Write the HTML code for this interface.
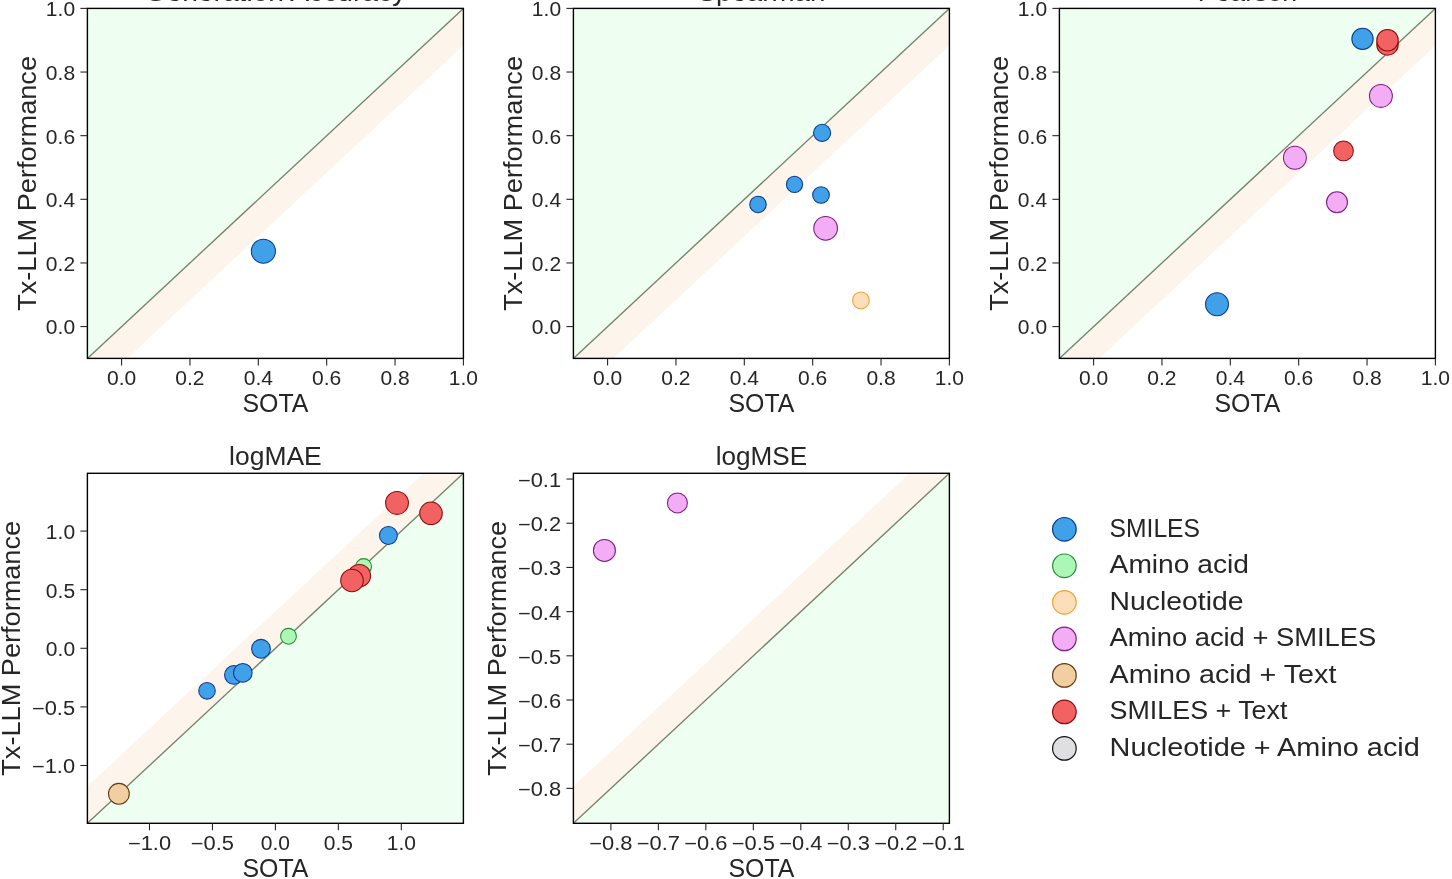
<!DOCTYPE html>
<html><head><meta charset="utf-8"><style>
html,body{margin:0;padding:0;background:#fff;}
svg{display:block;will-change:transform;font-family:"Liberation Sans", sans-serif;}
</style></head><body>
<svg width="1452" height="879" viewBox="0 0 1452 879">
<rect width="1452" height="879" fill="#fff"/>
<polygon points="87.4,358.4 87.4,8.4 463.4,8.4" fill="#eefef0"/>
<polygon points="87.4,358.4 463.4,8.4 463.4,45.4 127.14857142857144,358.4" fill="#fdf4ec"/>
<line x1="87.4" y1="358.4" x2="463.4" y2="8.4" stroke="#74836d" stroke-width="1.35"/>
<circle cx="263.4" cy="251.2" r="12.05" fill="#40a1e8" stroke="#0b3a8e" stroke-width="1.05"/>
<rect x="87.4" y="8.4" width="376.0" height="350.0" fill="none" stroke="#000" stroke-width="1.4"/>
<line x1="121.58" y1="358.4" x2="121.58" y2="365.4" stroke="#262626" stroke-width="1.1"/>
<text x="121.58" y="384.70" font-size="19.3" text-anchor="middle" textLength="29.23" lengthAdjust="spacingAndGlyphs" fill="#262626">0.0</text>
<line x1="189.95" y1="358.4" x2="189.95" y2="365.4" stroke="#262626" stroke-width="1.1"/>
<text x="189.95" y="384.70" font-size="19.3" text-anchor="middle" textLength="29.23" lengthAdjust="spacingAndGlyphs" fill="#262626">0.2</text>
<line x1="258.31" y1="358.4" x2="258.31" y2="365.4" stroke="#262626" stroke-width="1.1"/>
<text x="258.31" y="384.70" font-size="19.3" text-anchor="middle" textLength="29.23" lengthAdjust="spacingAndGlyphs" fill="#262626">0.4</text>
<line x1="326.67" y1="358.4" x2="326.67" y2="365.4" stroke="#262626" stroke-width="1.1"/>
<text x="326.67" y="384.70" font-size="19.3" text-anchor="middle" textLength="29.23" lengthAdjust="spacingAndGlyphs" fill="#262626">0.6</text>
<line x1="395.04" y1="358.4" x2="395.04" y2="365.4" stroke="#262626" stroke-width="1.1"/>
<text x="395.04" y="384.70" font-size="19.3" text-anchor="middle" textLength="29.23" lengthAdjust="spacingAndGlyphs" fill="#262626">0.8</text>
<line x1="463.40" y1="358.4" x2="463.40" y2="365.4" stroke="#262626" stroke-width="1.1"/>
<text x="463.40" y="384.70" font-size="19.3" text-anchor="middle" textLength="29.23" lengthAdjust="spacingAndGlyphs" fill="#262626">1.0</text>
<line x1="80.4" y1="326.58" x2="87.4" y2="326.58" stroke="#262626" stroke-width="1.1"/>
<text x="75.10" y="334.48" font-size="19.3" text-anchor="end" textLength="29.23" lengthAdjust="spacingAndGlyphs" fill="#262626">0.0</text>
<line x1="80.4" y1="262.95" x2="87.4" y2="262.95" stroke="#262626" stroke-width="1.1"/>
<text x="75.10" y="270.85" font-size="19.3" text-anchor="end" textLength="29.23" lengthAdjust="spacingAndGlyphs" fill="#262626">0.2</text>
<line x1="80.4" y1="199.31" x2="87.4" y2="199.31" stroke="#262626" stroke-width="1.1"/>
<text x="75.10" y="207.21" font-size="19.3" text-anchor="end" textLength="29.23" lengthAdjust="spacingAndGlyphs" fill="#262626">0.4</text>
<line x1="80.4" y1="135.67" x2="87.4" y2="135.67" stroke="#262626" stroke-width="1.1"/>
<text x="75.10" y="143.57" font-size="19.3" text-anchor="end" textLength="29.23" lengthAdjust="spacingAndGlyphs" fill="#262626">0.6</text>
<line x1="80.4" y1="72.04" x2="87.4" y2="72.04" stroke="#262626" stroke-width="1.1"/>
<text x="75.10" y="79.94" font-size="19.3" text-anchor="end" textLength="29.23" lengthAdjust="spacingAndGlyphs" fill="#262626">0.8</text>
<line x1="80.4" y1="8.40" x2="87.4" y2="8.40" stroke="#262626" stroke-width="1.1"/>
<text x="75.10" y="16.30" font-size="19.3" text-anchor="end" textLength="29.23" lengthAdjust="spacingAndGlyphs" fill="#262626">1.0</text>
<text x="275.40" y="412.20" font-size="25.5" text-anchor="middle" textLength="65.98" lengthAdjust="spacingAndGlyphs" fill="#262626">SOTA</text>
<text x="35.60" y="183.40" font-size="25.5" text-anchor="middle" textLength="254.86" lengthAdjust="spacingAndGlyphs" fill="#262626" transform="rotate(-90 35.6 183.39999999999998)">Tx-LLM Performance</text>
<text x="275.40" y="1.30" font-size="25.5" text-anchor="middle" textLength="261.56" lengthAdjust="spacingAndGlyphs" fill="#262626">Generation Accuracy</text>
<polygon points="573.4,358.4 573.4,8.4 949.4,8.4" fill="#eefef0"/>
<polygon points="573.4,358.4 949.4,8.4 949.4,45.4 613.1485714285714,358.4" fill="#fdf4ec"/>
<line x1="573.4" y1="358.4" x2="949.4" y2="8.4" stroke="#74836d" stroke-width="1.35"/>
<circle cx="822.1" cy="132.9" r="8.55" fill="#40a1e8" stroke="#0b3a8e" stroke-width="1.05"/>
<circle cx="794.5" cy="184.4" r="8.10" fill="#40a1e8" stroke="#0b3a8e" stroke-width="1.05"/>
<circle cx="821.0" cy="195.0" r="8.35" fill="#40a1e8" stroke="#0b3a8e" stroke-width="1.05"/>
<circle cx="758.0" cy="204.4" r="8.25" fill="#40a1e8" stroke="#0b3a8e" stroke-width="1.05"/>
<circle cx="825.6" cy="228.3" r="11.85" fill="#f2adf5" stroke="#7d1a85" stroke-width="1.05"/>
<circle cx="860.9" cy="300.4" r="8.35" fill="#fcdfba" stroke="#f0a030" stroke-width="1.05"/>
<rect x="573.4" y="8.4" width="376.0" height="350.0" fill="none" stroke="#000" stroke-width="1.4"/>
<line x1="607.58" y1="358.4" x2="607.58" y2="365.4" stroke="#262626" stroke-width="1.1"/>
<text x="607.58" y="384.70" font-size="19.3" text-anchor="middle" textLength="29.23" lengthAdjust="spacingAndGlyphs" fill="#262626">0.0</text>
<line x1="675.95" y1="358.4" x2="675.95" y2="365.4" stroke="#262626" stroke-width="1.1"/>
<text x="675.95" y="384.70" font-size="19.3" text-anchor="middle" textLength="29.23" lengthAdjust="spacingAndGlyphs" fill="#262626">0.2</text>
<line x1="744.31" y1="358.4" x2="744.31" y2="365.4" stroke="#262626" stroke-width="1.1"/>
<text x="744.31" y="384.70" font-size="19.3" text-anchor="middle" textLength="29.23" lengthAdjust="spacingAndGlyphs" fill="#262626">0.4</text>
<line x1="812.67" y1="358.4" x2="812.67" y2="365.4" stroke="#262626" stroke-width="1.1"/>
<text x="812.67" y="384.70" font-size="19.3" text-anchor="middle" textLength="29.23" lengthAdjust="spacingAndGlyphs" fill="#262626">0.6</text>
<line x1="881.04" y1="358.4" x2="881.04" y2="365.4" stroke="#262626" stroke-width="1.1"/>
<text x="881.04" y="384.70" font-size="19.3" text-anchor="middle" textLength="29.23" lengthAdjust="spacingAndGlyphs" fill="#262626">0.8</text>
<line x1="949.40" y1="358.4" x2="949.40" y2="365.4" stroke="#262626" stroke-width="1.1"/>
<text x="949.40" y="384.70" font-size="19.3" text-anchor="middle" textLength="29.23" lengthAdjust="spacingAndGlyphs" fill="#262626">1.0</text>
<line x1="566.4" y1="326.58" x2="573.4" y2="326.58" stroke="#262626" stroke-width="1.1"/>
<text x="561.10" y="334.48" font-size="19.3" text-anchor="end" textLength="29.23" lengthAdjust="spacingAndGlyphs" fill="#262626">0.0</text>
<line x1="566.4" y1="262.95" x2="573.4" y2="262.95" stroke="#262626" stroke-width="1.1"/>
<text x="561.10" y="270.85" font-size="19.3" text-anchor="end" textLength="29.23" lengthAdjust="spacingAndGlyphs" fill="#262626">0.2</text>
<line x1="566.4" y1="199.31" x2="573.4" y2="199.31" stroke="#262626" stroke-width="1.1"/>
<text x="561.10" y="207.21" font-size="19.3" text-anchor="end" textLength="29.23" lengthAdjust="spacingAndGlyphs" fill="#262626">0.4</text>
<line x1="566.4" y1="135.67" x2="573.4" y2="135.67" stroke="#262626" stroke-width="1.1"/>
<text x="561.10" y="143.57" font-size="19.3" text-anchor="end" textLength="29.23" lengthAdjust="spacingAndGlyphs" fill="#262626">0.6</text>
<line x1="566.4" y1="72.04" x2="573.4" y2="72.04" stroke="#262626" stroke-width="1.1"/>
<text x="561.10" y="79.94" font-size="19.3" text-anchor="end" textLength="29.23" lengthAdjust="spacingAndGlyphs" fill="#262626">0.8</text>
<line x1="566.4" y1="8.40" x2="573.4" y2="8.40" stroke="#262626" stroke-width="1.1"/>
<text x="561.10" y="16.30" font-size="19.3" text-anchor="end" textLength="29.23" lengthAdjust="spacingAndGlyphs" fill="#262626">1.0</text>
<text x="761.40" y="412.20" font-size="25.5" text-anchor="middle" textLength="65.98" lengthAdjust="spacingAndGlyphs" fill="#262626">SOTA</text>
<text x="521.60" y="183.40" font-size="25.5" text-anchor="middle" textLength="254.86" lengthAdjust="spacingAndGlyphs" fill="#262626" transform="rotate(-90 521.6 183.39999999999998)">Tx-LLM Performance</text>
<text x="761.40" y="1.30" font-size="25.5" text-anchor="middle" textLength="127.80" lengthAdjust="spacingAndGlyphs" fill="#262626">Spearman</text>
<polygon points="1059.4,358.4 1059.4,8.4 1435.4,8.4" fill="#eefef0"/>
<polygon points="1059.4,358.4 1435.4,8.4 1435.4,45.4 1099.1485714285716,358.4" fill="#fdf4ec"/>
<line x1="1059.4" y1="358.4" x2="1435.4" y2="8.4" stroke="#74836d" stroke-width="1.35"/>
<circle cx="1362.5" cy="38.9" r="10.65" fill="#40a1e8" stroke="#0b3a8e" stroke-width="1.05"/>
<circle cx="1387.5" cy="44.4" r="10.75" fill="#f26262" stroke="#8b0a0a" stroke-width="1.05"/>
<circle cx="1387.5" cy="40.2" r="10.75" fill="#f26262" stroke="#8b0a0a" stroke-width="1.05"/>
<circle cx="1380.9" cy="95.9" r="11.45" fill="#f2adf5" stroke="#7d1a85" stroke-width="1.05"/>
<circle cx="1343.5" cy="150.9" r="9.85" fill="#f26262" stroke="#8b0a0a" stroke-width="1.05"/>
<circle cx="1294.9" cy="157.7" r="11.45" fill="#f2adf5" stroke="#7d1a85" stroke-width="1.05"/>
<circle cx="1337.0" cy="202.2" r="10.50" fill="#f2adf5" stroke="#7d1a85" stroke-width="1.05"/>
<circle cx="1217.0" cy="304.3" r="11.45" fill="#40a1e8" stroke="#0b3a8e" stroke-width="1.05"/>
<rect x="1059.4" y="8.4" width="376.0" height="350.0" fill="none" stroke="#000" stroke-width="1.4"/>
<line x1="1093.58" y1="358.4" x2="1093.58" y2="365.4" stroke="#262626" stroke-width="1.1"/>
<text x="1093.58" y="384.70" font-size="19.3" text-anchor="middle" textLength="29.23" lengthAdjust="spacingAndGlyphs" fill="#262626">0.0</text>
<line x1="1161.95" y1="358.4" x2="1161.95" y2="365.4" stroke="#262626" stroke-width="1.1"/>
<text x="1161.95" y="384.70" font-size="19.3" text-anchor="middle" textLength="29.23" lengthAdjust="spacingAndGlyphs" fill="#262626">0.2</text>
<line x1="1230.31" y1="358.4" x2="1230.31" y2="365.4" stroke="#262626" stroke-width="1.1"/>
<text x="1230.31" y="384.70" font-size="19.3" text-anchor="middle" textLength="29.23" lengthAdjust="spacingAndGlyphs" fill="#262626">0.4</text>
<line x1="1298.67" y1="358.4" x2="1298.67" y2="365.4" stroke="#262626" stroke-width="1.1"/>
<text x="1298.67" y="384.70" font-size="19.3" text-anchor="middle" textLength="29.23" lengthAdjust="spacingAndGlyphs" fill="#262626">0.6</text>
<line x1="1367.04" y1="358.4" x2="1367.04" y2="365.4" stroke="#262626" stroke-width="1.1"/>
<text x="1367.04" y="384.70" font-size="19.3" text-anchor="middle" textLength="29.23" lengthAdjust="spacingAndGlyphs" fill="#262626">0.8</text>
<line x1="1435.40" y1="358.4" x2="1435.40" y2="365.4" stroke="#262626" stroke-width="1.1"/>
<text x="1435.40" y="384.70" font-size="19.3" text-anchor="middle" textLength="29.23" lengthAdjust="spacingAndGlyphs" fill="#262626">1.0</text>
<line x1="1052.4" y1="326.58" x2="1059.4" y2="326.58" stroke="#262626" stroke-width="1.1"/>
<text x="1047.10" y="334.48" font-size="19.3" text-anchor="end" textLength="29.23" lengthAdjust="spacingAndGlyphs" fill="#262626">0.0</text>
<line x1="1052.4" y1="262.95" x2="1059.4" y2="262.95" stroke="#262626" stroke-width="1.1"/>
<text x="1047.10" y="270.85" font-size="19.3" text-anchor="end" textLength="29.23" lengthAdjust="spacingAndGlyphs" fill="#262626">0.2</text>
<line x1="1052.4" y1="199.31" x2="1059.4" y2="199.31" stroke="#262626" stroke-width="1.1"/>
<text x="1047.10" y="207.21" font-size="19.3" text-anchor="end" textLength="29.23" lengthAdjust="spacingAndGlyphs" fill="#262626">0.4</text>
<line x1="1052.4" y1="135.67" x2="1059.4" y2="135.67" stroke="#262626" stroke-width="1.1"/>
<text x="1047.10" y="143.57" font-size="19.3" text-anchor="end" textLength="29.23" lengthAdjust="spacingAndGlyphs" fill="#262626">0.6</text>
<line x1="1052.4" y1="72.04" x2="1059.4" y2="72.04" stroke="#262626" stroke-width="1.1"/>
<text x="1047.10" y="79.94" font-size="19.3" text-anchor="end" textLength="29.23" lengthAdjust="spacingAndGlyphs" fill="#262626">0.8</text>
<line x1="1052.4" y1="8.40" x2="1059.4" y2="8.40" stroke="#262626" stroke-width="1.1"/>
<text x="1047.10" y="16.30" font-size="19.3" text-anchor="end" textLength="29.23" lengthAdjust="spacingAndGlyphs" fill="#262626">1.0</text>
<text x="1247.40" y="412.20" font-size="25.5" text-anchor="middle" textLength="65.98" lengthAdjust="spacingAndGlyphs" fill="#262626">SOTA</text>
<text x="1007.60" y="183.40" font-size="25.5" text-anchor="middle" textLength="254.86" lengthAdjust="spacingAndGlyphs" fill="#262626" transform="rotate(-90 1007.6000000000001 183.39999999999998)">Tx-LLM Performance</text>
<text x="1247.40" y="1.30" font-size="25.5" text-anchor="middle" textLength="99.33" lengthAdjust="spacingAndGlyphs" fill="#262626">Pearson</text>
<polygon points="87.4,823.3 463.4,823.3 463.4,473.3" fill="#eefef0"/>
<polygon points="87.4,823.3 463.4,473.3 423.65142857142854,473.3 87.4,786.3" fill="#fdf4ec"/>
<line x1="87.4" y1="823.3" x2="463.4" y2="473.3" stroke="#74836d" stroke-width="1.35"/>
<circle cx="118.9" cy="793.8" r="10.40" fill="#f2cfa0" stroke="#5e3a10" stroke-width="1.05"/>
<circle cx="207.0" cy="690.8" r="8.30" fill="#40a1e8" stroke="#0b3a8e" stroke-width="1.05"/>
<circle cx="233.9" cy="674.9" r="9.35" fill="#40a1e8" stroke="#0b3a8e" stroke-width="1.05"/>
<circle cx="242.8" cy="672.8" r="9.35" fill="#40a1e8" stroke="#0b3a8e" stroke-width="1.05"/>
<circle cx="261.0" cy="648.8" r="9.40" fill="#40a1e8" stroke="#0b3a8e" stroke-width="1.05"/>
<circle cx="288.5" cy="636.3" r="7.90" fill="#acf7b6" stroke="#268c36" stroke-width="1.05"/>
<circle cx="363.6" cy="566.5" r="7.90" fill="#acf7b6" stroke="#268c36" stroke-width="1.05"/>
<circle cx="359.3" cy="575.7" r="11.25" fill="#f26262" stroke="#8b0a0a" stroke-width="1.05"/>
<circle cx="352.0" cy="580.5" r="11.30" fill="#f26262" stroke="#8b0a0a" stroke-width="1.05"/>
<circle cx="388.4" cy="535.5" r="8.95" fill="#40a1e8" stroke="#0b3a8e" stroke-width="1.05"/>
<circle cx="397.0" cy="502.9" r="11.45" fill="#f26262" stroke="#8b0a0a" stroke-width="1.05"/>
<circle cx="431.0" cy="513.3" r="11.25" fill="#f26262" stroke="#8b0a0a" stroke-width="1.05"/>
<rect x="87.4" y="473.3" width="376.0" height="350.0" fill="none" stroke="#000" stroke-width="1.4"/>
<line x1="149.48" y1="823.3" x2="149.48" y2="830.3" stroke="#262626" stroke-width="1.1"/>
<text x="149.48" y="849.60" font-size="19.3" text-anchor="middle" textLength="43.16" lengthAdjust="spacingAndGlyphs" fill="#262626">−1.0</text>
<line x1="212.44" y1="823.3" x2="212.44" y2="830.3" stroke="#262626" stroke-width="1.1"/>
<text x="212.44" y="849.60" font-size="19.3" text-anchor="middle" textLength="43.16" lengthAdjust="spacingAndGlyphs" fill="#262626">−0.5</text>
<line x1="275.40" y1="823.3" x2="275.40" y2="830.3" stroke="#262626" stroke-width="1.1"/>
<text x="275.40" y="849.60" font-size="19.3" text-anchor="middle" textLength="29.23" lengthAdjust="spacingAndGlyphs" fill="#262626">0.0</text>
<line x1="338.36" y1="823.3" x2="338.36" y2="830.3" stroke="#262626" stroke-width="1.1"/>
<text x="338.36" y="849.60" font-size="19.3" text-anchor="middle" textLength="29.23" lengthAdjust="spacingAndGlyphs" fill="#262626">0.5</text>
<line x1="401.32" y1="823.3" x2="401.32" y2="830.3" stroke="#262626" stroke-width="1.1"/>
<text x="401.32" y="849.60" font-size="19.3" text-anchor="middle" textLength="29.23" lengthAdjust="spacingAndGlyphs" fill="#262626">1.0</text>
<line x1="80.4" y1="765.51" x2="87.4" y2="765.51" stroke="#262626" stroke-width="1.1"/>
<text x="75.10" y="773.41" font-size="19.3" text-anchor="end" textLength="43.16" lengthAdjust="spacingAndGlyphs" fill="#262626">−1.0</text>
<line x1="80.4" y1="706.91" x2="87.4" y2="706.91" stroke="#262626" stroke-width="1.1"/>
<text x="75.10" y="714.81" font-size="19.3" text-anchor="end" textLength="43.16" lengthAdjust="spacingAndGlyphs" fill="#262626">−0.5</text>
<line x1="80.4" y1="648.30" x2="87.4" y2="648.30" stroke="#262626" stroke-width="1.1"/>
<text x="75.10" y="656.20" font-size="19.3" text-anchor="end" textLength="29.23" lengthAdjust="spacingAndGlyphs" fill="#262626">0.0</text>
<line x1="80.4" y1="589.69" x2="87.4" y2="589.69" stroke="#262626" stroke-width="1.1"/>
<text x="75.10" y="597.59" font-size="19.3" text-anchor="end" textLength="29.23" lengthAdjust="spacingAndGlyphs" fill="#262626">0.5</text>
<line x1="80.4" y1="531.09" x2="87.4" y2="531.09" stroke="#262626" stroke-width="1.1"/>
<text x="75.10" y="538.99" font-size="19.3" text-anchor="end" textLength="29.23" lengthAdjust="spacingAndGlyphs" fill="#262626">1.0</text>
<text x="275.40" y="877.10" font-size="25.5" text-anchor="middle" textLength="65.98" lengthAdjust="spacingAndGlyphs" fill="#262626">SOTA</text>
<text x="19.80" y="648.30" font-size="25.5" text-anchor="middle" textLength="254.86" lengthAdjust="spacingAndGlyphs" fill="#262626" transform="rotate(-90 19.8 648.3)">Tx-LLM Performance</text>
<text x="275.40" y="465.00" font-size="25.5" text-anchor="middle" textLength="92.59" lengthAdjust="spacingAndGlyphs" fill="#262626">logMAE</text>
<polygon points="573.4,823.3 949.4,823.3 949.4,473.3" fill="#eefef0"/>
<polygon points="573.4,823.3 949.4,473.3 909.6514285714286,473.3 573.4,786.3" fill="#fdf4ec"/>
<line x1="573.4" y1="823.3" x2="949.4" y2="473.3" stroke="#74836d" stroke-width="1.35"/>
<circle cx="604.4" cy="550.4" r="11.00" fill="#f2adf5" stroke="#7d1a85" stroke-width="1.05"/>
<circle cx="677.4" cy="502.9" r="10.00" fill="#f2adf5" stroke="#7d1a85" stroke-width="1.05"/>
<rect x="573.4" y="473.3" width="376.0" height="350.0" fill="none" stroke="#000" stroke-width="1.4"/>
<line x1="610.91" y1="823.3" x2="610.91" y2="830.3" stroke="#262626" stroke-width="1.1"/>
<text x="610.91" y="849.60" font-size="19.3" text-anchor="middle" textLength="43.16" lengthAdjust="spacingAndGlyphs" fill="#262626">−0.8</text>
<line x1="658.38" y1="823.3" x2="658.38" y2="830.3" stroke="#262626" stroke-width="1.1"/>
<text x="658.38" y="849.60" font-size="19.3" text-anchor="middle" textLength="43.16" lengthAdjust="spacingAndGlyphs" fill="#262626">−0.7</text>
<line x1="705.85" y1="823.3" x2="705.85" y2="830.3" stroke="#262626" stroke-width="1.1"/>
<text x="705.85" y="849.60" font-size="19.3" text-anchor="middle" textLength="43.16" lengthAdjust="spacingAndGlyphs" fill="#262626">−0.6</text>
<line x1="753.33" y1="823.3" x2="753.33" y2="830.3" stroke="#262626" stroke-width="1.1"/>
<text x="753.33" y="849.60" font-size="19.3" text-anchor="middle" textLength="43.16" lengthAdjust="spacingAndGlyphs" fill="#262626">−0.5</text>
<line x1="800.80" y1="823.3" x2="800.80" y2="830.3" stroke="#262626" stroke-width="1.1"/>
<text x="800.80" y="849.60" font-size="19.3" text-anchor="middle" textLength="43.16" lengthAdjust="spacingAndGlyphs" fill="#262626">−0.4</text>
<line x1="848.28" y1="823.3" x2="848.28" y2="830.3" stroke="#262626" stroke-width="1.1"/>
<text x="848.28" y="849.60" font-size="19.3" text-anchor="middle" textLength="43.16" lengthAdjust="spacingAndGlyphs" fill="#262626">−0.3</text>
<line x1="895.75" y1="823.3" x2="895.75" y2="830.3" stroke="#262626" stroke-width="1.1"/>
<text x="895.75" y="849.60" font-size="19.3" text-anchor="middle" textLength="43.16" lengthAdjust="spacingAndGlyphs" fill="#262626">−0.2</text>
<line x1="943.23" y1="823.3" x2="943.23" y2="830.3" stroke="#262626" stroke-width="1.1"/>
<text x="943.23" y="849.60" font-size="19.3" text-anchor="middle" textLength="43.16" lengthAdjust="spacingAndGlyphs" fill="#262626">−0.1</text>
<line x1="566.4" y1="788.39" x2="573.4" y2="788.39" stroke="#262626" stroke-width="1.1"/>
<text x="561.10" y="796.29" font-size="19.3" text-anchor="end" textLength="43.16" lengthAdjust="spacingAndGlyphs" fill="#262626">−0.8</text>
<line x1="566.4" y1="744.20" x2="573.4" y2="744.20" stroke="#262626" stroke-width="1.1"/>
<text x="561.10" y="752.10" font-size="19.3" text-anchor="end" textLength="43.16" lengthAdjust="spacingAndGlyphs" fill="#262626">−0.7</text>
<line x1="566.4" y1="700.00" x2="573.4" y2="700.00" stroke="#262626" stroke-width="1.1"/>
<text x="561.10" y="707.90" font-size="19.3" text-anchor="end" textLength="43.16" lengthAdjust="spacingAndGlyphs" fill="#262626">−0.6</text>
<line x1="566.4" y1="655.81" x2="573.4" y2="655.81" stroke="#262626" stroke-width="1.1"/>
<text x="561.10" y="663.71" font-size="19.3" text-anchor="end" textLength="43.16" lengthAdjust="spacingAndGlyphs" fill="#262626">−0.5</text>
<line x1="566.4" y1="611.62" x2="573.4" y2="611.62" stroke="#262626" stroke-width="1.1"/>
<text x="561.10" y="619.52" font-size="19.3" text-anchor="end" textLength="43.16" lengthAdjust="spacingAndGlyphs" fill="#262626">−0.4</text>
<line x1="566.4" y1="567.43" x2="573.4" y2="567.43" stroke="#262626" stroke-width="1.1"/>
<text x="561.10" y="575.33" font-size="19.3" text-anchor="end" textLength="43.16" lengthAdjust="spacingAndGlyphs" fill="#262626">−0.3</text>
<line x1="566.4" y1="523.24" x2="573.4" y2="523.24" stroke="#262626" stroke-width="1.1"/>
<text x="561.10" y="531.14" font-size="19.3" text-anchor="end" textLength="43.16" lengthAdjust="spacingAndGlyphs" fill="#262626">−0.2</text>
<line x1="566.4" y1="479.04" x2="573.4" y2="479.04" stroke="#262626" stroke-width="1.1"/>
<text x="561.10" y="486.94" font-size="19.3" text-anchor="end" textLength="43.16" lengthAdjust="spacingAndGlyphs" fill="#262626">−0.1</text>
<text x="761.40" y="877.10" font-size="25.5" text-anchor="middle" textLength="65.98" lengthAdjust="spacingAndGlyphs" fill="#262626">SOTA</text>
<text x="505.80" y="648.30" font-size="25.5" text-anchor="middle" textLength="254.86" lengthAdjust="spacingAndGlyphs" fill="#262626" transform="rotate(-90 505.8 648.3)">Tx-LLM Performance</text>
<text x="761.40" y="465.00" font-size="25.5" text-anchor="middle" textLength="91.36" lengthAdjust="spacingAndGlyphs" fill="#262626">logMSE</text>
<circle cx="1064.4" cy="529.30" r="11.8" fill="#40a1e8" stroke="#0b3a8e" stroke-width="1.2"/>
<text x="1109.60" y="536.80" font-size="25.5" text-anchor="start" textLength="90.41" lengthAdjust="spacingAndGlyphs" fill="#262626">SMILES</text>
<circle cx="1064.4" cy="565.82" r="11.8" fill="#acf7b6" stroke="#268c36" stroke-width="1.2"/>
<text x="1109.60" y="573.32" font-size="25.5" text-anchor="start" textLength="139.41" lengthAdjust="spacingAndGlyphs" fill="#262626">Amino acid</text>
<circle cx="1064.4" cy="602.34" r="11.8" fill="#fcdfba" stroke="#f0a030" stroke-width="1.2"/>
<text x="1109.60" y="609.84" font-size="25.5" text-anchor="start" textLength="133.92" lengthAdjust="spacingAndGlyphs" fill="#262626">Nucleotide</text>
<circle cx="1064.4" cy="638.86" r="11.8" fill="#f2adf5" stroke="#7d1a85" stroke-width="1.2"/>
<text x="1109.60" y="646.36" font-size="25.5" text-anchor="start" textLength="266.67" lengthAdjust="spacingAndGlyphs" fill="#262626">Amino acid + SMILES</text>
<circle cx="1064.4" cy="675.38" r="11.8" fill="#f2cfa0" stroke="#5e3a10" stroke-width="1.2"/>
<text x="1109.60" y="682.88" font-size="25.5" text-anchor="start" textLength="226.81" lengthAdjust="spacingAndGlyphs" fill="#262626">Amino acid + Text</text>
<circle cx="1064.4" cy="711.90" r="11.8" fill="#f26262" stroke="#8b0a0a" stroke-width="1.2"/>
<text x="1109.60" y="719.40" font-size="25.5" text-anchor="start" textLength="177.81" lengthAdjust="spacingAndGlyphs" fill="#262626">SMILES + Text</text>
<circle cx="1064.4" cy="748.42" r="11.8" fill="#dfdfe2" stroke="#111111" stroke-width="1.2"/>
<text x="1109.60" y="755.92" font-size="25.5" text-anchor="start" textLength="310.19" lengthAdjust="spacingAndGlyphs" fill="#262626">Nucleotide + Amino acid</text>
</svg></body></html>
